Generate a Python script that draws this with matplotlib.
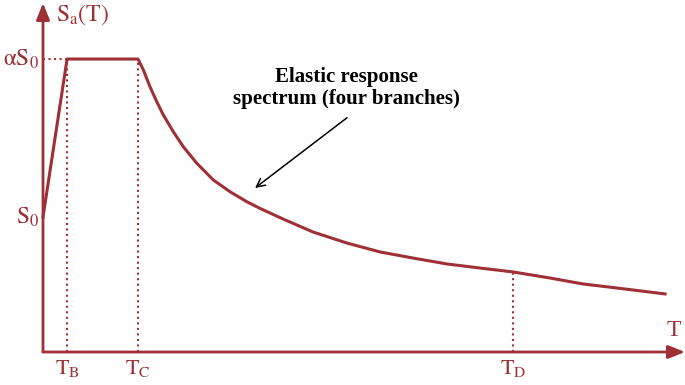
import matplotlib
matplotlib.use('Agg')
import matplotlib.pyplot as plt

# ===== DATA =====
S0 = 1.0
ALPHA_S0 = 2.17
TB = 0.128
TC = 0.505
TD = 2.5
T_MAX = 3.415
SA_MAX = 2.585

# spectrum: rising branch, plateau, then the two decaying branches
T_VALS = [0.0, TB, TC, 0.534, 0.569, 0.605, 0.640, 0.693, 0.746, 0.818, 0.906, 0.995,
          1.084, 1.154, 1.277, 1.436, 1.617, 1.793, 1.968, 2.149, 2.324, TD,
          2.697, 2.872, 3.053, 3.309]
SA_VALS = [S0, ALPHA_S0, ALPHA_S0, 2.089, 1.965, 1.854, 1.756, 1.632, 1.521, 1.398, 1.274, 1.187,
           1.113, 1.064, 0.985, 0.889, 0.807, 0.741, 0.696, 0.652, 0.622, 0.593,
           0.548, 0.504, 0.474, 0.430]
SA_AT_TD = 0.593

RED = '#9e3036'

plt.rcParams['mathtext.fontset'] = 'stix'
plt.rcParams['font.family'] = 'Liberation Serif'

fig = plt.figure(figsize=(6.85, 3.85), dpi=100)
ax = fig.add_axes([43 / 685, 33 / 385, 1 - 43 / 685, 349 / 385])
ax.set_xlim(0, T_MAX)
ax.set_ylim(0, SA_MAX)
ax.axis('off')

# axes with arrows
head = '-|>,head_length=1.0,head_width=0.4'
ax.annotate('', xy=(0, SA_MAX), xytext=(0, 0),
            arrowprops=dict(arrowstyle=head, color=RED, lw=2, shrinkA=0, shrinkB=0))
ax.annotate('', xy=(T_MAX, 0), xytext=(0, 0),
            arrowprops=dict(arrowstyle=head, color=RED, lw=2, shrinkA=0, shrinkB=0))

# dotted guides
ax.plot([0, TB], [ALPHA_S0, ALPHA_S0], ls=':', color=RED, lw=1.5)
ax.plot([TB, TB], [0, ALPHA_S0], ls=':', color=RED, lw=1.5)
ax.plot([TC, TC], [0, ALPHA_S0], ls=':', color=RED, lw=1.5)
ax.plot([TD, TD], [0, SA_AT_TD], ls=':', color=RED, lw=1.5)

# spectrum curve
ax.plot(T_VALS, SA_VALS, color=RED, lw=2.2, solid_joinstyle='round', clip_on=False)

# labels
ax.text(0.07, SA_MAX - 0.09, r'$\mathrm{S_a(T)}$', color=RED, fontsize=17, va='center', ha='left')
ax.text(-0.02, ALPHA_S0, r'$\mathrm{\alpha S_0}$', color=RED, fontsize=17, va='center', ha='right')
ax.text(-0.02, S0, r'$\mathrm{S_0}$', color=RED, fontsize=17, va='center', ha='right')
for t, lab in [(TB, r'$\mathrm{T_B}$'), (TC, r'$\mathrm{T_C}$'), (TD, r'$\mathrm{T_D}$')]:
    ax.text(t, -0.045, lab, color=RED, fontsize=16, va='top', ha='center')
ax.text(T_MAX - 0.02, 0.16, 'T', color=RED, fontsize=17, va='center', ha='right')

# annotation
ax.text(1.612, 1.956, 'Elastic response\nspectrum (four branches)', fontsize=15,
        family='Liberation Serif', fontweight='bold', ha='center', va='center',
        linespacing=1.15, color='black')
ax.annotate('', xy=(1.128, 1.215), xytext=(1.617, 1.735),
            arrowprops=dict(arrowstyle='->,head_length=0.6,head_width=0.3', color='black', lw=1.1,
                            shrinkA=0, shrinkB=0))

plt.savefig('out.png', dpi=100)
